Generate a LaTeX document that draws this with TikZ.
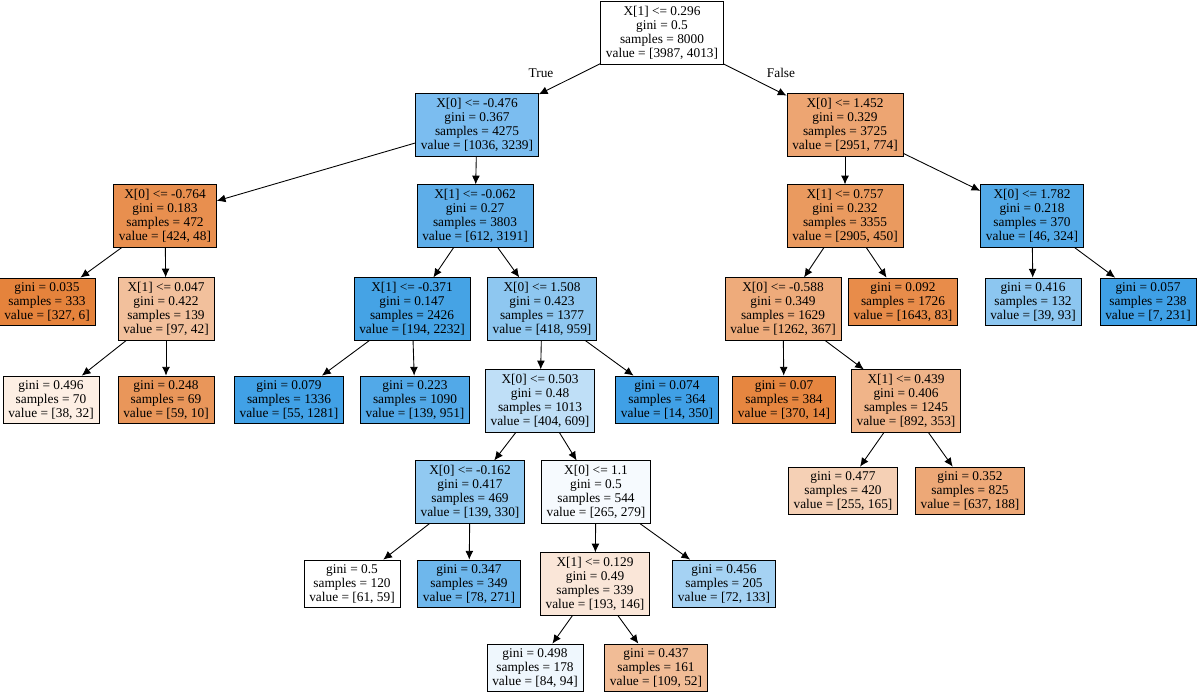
\documentclass[tikz,border=0pt]{standalone}
\usepackage{fontspec}
\setmainfont{Liberation Serif}
\usetikzlibrary{arrows.meta}
\begin{document}
\begin{tikzpicture}[x=0.02cm,y=-0.02cm,
  n/.style={draw=black,line width=0.5pt,align=center,font=\fontsize{7.6}{8}\selectfont,inner xsep=3pt,inner ysep=2.5pt},
  e/.style={-{Latex[length=5pt,width=4.5pt]},line width=0.5pt},
  lab/.style={font=\fontsize{7.6}{8}\selectfont}]
\useasboundingbox (0,0) rectangle (1200,696);
\definecolor{cA}{HTML}{7BBDF0}\definecolor{cB}{HTML}{EDA572}
\definecolor{cC}{HTML}{E88F4F}\definecolor{cD}{HTML}{5EAEE9}
\definecolor{cE}{HTML}{EA9A5F}\definecolor{cF}{HTML}{53AAE8}
\node[n,fill=white] (r) at (662,33) {X[1] <= 0.296\\gini = 0.5\\samples = 8000\\value = [3987, 4013]};
\node[n,fill=cA] (a) at (477,125) {X[0] <= -0.476\\gini = 0.367\\samples = 4275\\value = [1036, 3239]};
\node[n,fill=cB] (b) at (845,125) {X[0] <= 1.452\\gini = 0.329\\samples = 3725\\value = [2951, 774]};
\node[n,fill=cC] (c) at (165,216) {X[0] <= -0.764\\gini = 0.183\\samples = 472\\value = [424, 48]};
\node[n,fill=cD] (d) at (475,216) {X[1] <= -0.062\\gini = 0.27\\samples = 3803\\value = [612, 3191]};
\node[n,fill=cE] (ee) at (845,216) {X[1] <= 0.757\\gini = 0.232\\samples = 3355\\value = [2905, 450]};
\node[n,fill=cF] (f) at (1032,216) {X[0] <= 1.782\\gini = 0.218\\samples = 370\\value = [46, 324]};
\node[n,fill={rgb,255:red,229;green,131;blue,60}] (c1) at (47,302) {gini = 0.035\\samples = 333\\value = [327, 6]};
\node[n,fill={rgb,255:red,242;green,192;blue,156}] (c2) at (166,309) {X[1] <= 0.047\\gini = 0.422\\samples = 139\\value = [97, 42]};
\node[n,fill={rgb,255:red,69;green,163;blue,229}] (d1) at (412,309) {X[1] <= -0.371\\gini = 0.147\\samples = 2426\\value = [194, 2232]};
\node[n,fill={rgb,255:red,142;green,199;blue,240}] (d2) at (542,309) {X[0] <= 1.508\\gini = 0.423\\samples = 1377\\value = [418, 959]};
\node[n,fill={rgb,255:red,238;green,171;blue,123}] (e1) at (783,309) {X[0] <= -0.588\\gini = 0.349\\samples = 1629\\value = [1262, 367]};
\node[n,fill={rgb,255:red,232;green,140;blue,74}] (e2) at (903,302) {gini = 0.092\\samples = 1726\\value = [1643, 83]};
\node[n,fill={rgb,255:red,140;green,198;blue,240}] (f1) at (1033,302) {gini = 0.416\\samples = 132\\value = [39, 93]};
\node[n,fill={rgb,255:red,63;green,160;blue,230}] (f2) at (1148,302) {gini = 0.057\\samples = 238\\value = [7, 231]};
\node[n,fill={rgb,255:red,253;green,239;blue,228}] (c2a) at (51,400) {gini = 0.496\\samples = 70\\value = [38, 32]};
\node[n,fill={rgb,255:red,233;green,150;blue,90}] (c2b) at (166,400) {gini = 0.248\\samples = 69\\value = [59, 10]};
\node[n,fill={rgb,255:red,65;green,161;blue,230}] (d1a) at (289,400) {gini = 0.079\\samples = 1336\\value = [55, 1281]};
\node[n,fill={rgb,255:red,82;green,169;blue,232}] (d1b) at (415,400) {gini = 0.223\\samples = 1090\\value = [139, 951]};
\node[n,fill={rgb,255:red,191;green,223;blue,247}] (d2a) at (540,401) {X[0] <= 0.503\\gini = 0.48\\samples = 1013\\value = [404, 609]};
\node[n,fill={rgb,255:red,64;green,160;blue,230}] (d2b) at (667,400) {gini = 0.074\\samples = 364\\value = [14, 350]};
\node[n,fill={rgb,255:red,230;green,134;blue,64}] (e1a) at (784,400) {gini = 0.07\\samples = 384\\value = [370, 14]};
\node[n,fill={rgb,255:red,240;green,180;blue,137}] (e1b) at (906,401) {X[1] <= 0.439\\gini = 0.406\\samples = 1245\\value = [892, 353]};
\node[n,fill={rgb,255:red,145;green,201;blue,241}] (g1) at (470,492) {X[0] <= -0.162\\gini = 0.417\\samples = 469\\value = [139, 330]};
\node[n,fill={rgb,255:red,246;green,250;blue,254}] (g2) at (596,492) {X[0] <= 1.1\\gini = 0.5\\samples = 544\\value = [265, 279]};
\node[n,fill={rgb,255:red,245;green,208;blue,181}] (h1) at (843,491) {gini = 0.477\\samples = 420\\value = [255, 165]};
\node[n,fill={rgb,255:red,237;green,168;blue,119}] (h2) at (970,491) {gini = 0.352\\samples = 825\\value = [637, 188]};
\node[n,fill=white] (g1a) at (352,584) {gini = 0.5\\samples = 120\\value = [61, 59]};
\node[n,fill={rgb,255:red,110;green,183;blue,236}] (g1b) at (469,584) {gini = 0.347\\samples = 349\\value = [78, 271]};
\node[n,fill={rgb,255:red,250;green,230;blue,216}] (g2a) at (595,584) {X[1] <= 0.129\\gini = 0.49\\samples = 339\\value = [193, 146]};
\node[n,fill={rgb,255:red,165;green,210;blue,243}] (g2b) at (724,584) {gini = 0.456\\samples = 205\\value = [72, 133]};
\node[n,fill={rgb,255:red,239;green,247;blue,253}] (k1) at (535,668) {gini = 0.498\\samples = 178\\value = [84, 94]};
\node[n,fill={rgb,255:red,241;green,188;blue,150}] (k2) at (656,668) {gini = 0.437\\samples = 161\\value = [109, 52]};
\foreach \p/\c in {r/a,r/b,a/c,a/d,b/ee,b/f,c/c1,c/c2,d/d1,d/d2,ee/e1,ee/e2,f/f1,f/f2,c2/c2a,c2/c2b,d1/d1a,d1/d1b,d2/d2a,d2/d2b,e1/e1a,e1/e1b,d2a/g1,d2a/g2,e1b/h1,e1b/h2,g1/g1a,g1/g1b,g2/g2a,g2/g2b,g2a/k1,g2a/k2}
  \draw[e] (\p) -- (\c);
\node[lab] (t) at (541,73) {True};
\node[lab] (fl) at (781,73) {False};
\end{tikzpicture}
\end{document}
